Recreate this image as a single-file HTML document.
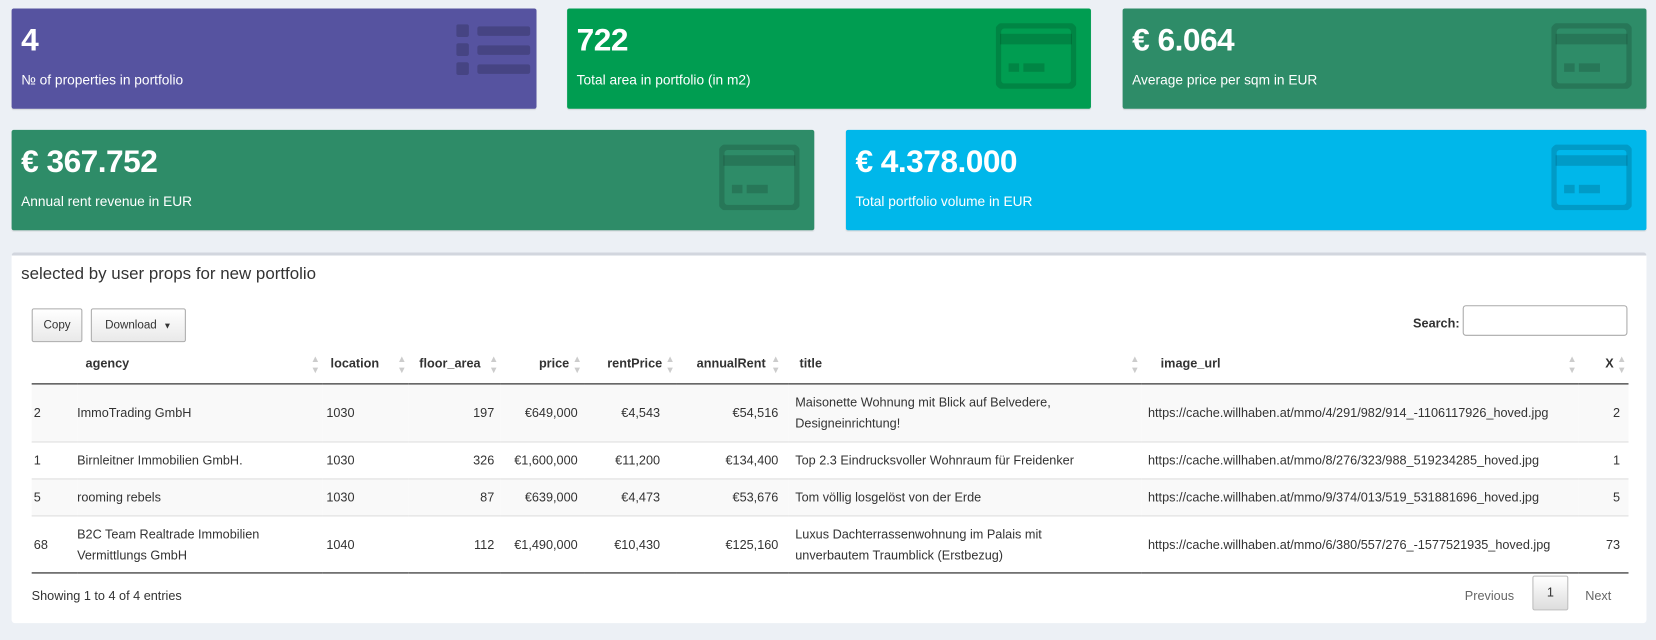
<!DOCTYPE html>
<html><head><meta charset="utf-8"><style>
html,body{margin:0;padding:0;background:#ecf0f5;overflow:hidden;width:1656px;height:640px}
#wrap{position:absolute;left:0;top:0;width:1568px;height:606px;transform:scale(1.0561);transform-origin:0 0;font-family:"Liberation Sans",sans-serif;color:#333}
.box{position:absolute;color:#fff;border-radius:2px;box-shadow:0 1px 1px rgba(0,0,0,.1)}
.box .v{position:absolute;left:9px;top:14px;font-size:30px;font-weight:bold;letter-spacing:-0.5px}
.box .l{position:absolute;left:9px;top:60px;font-size:13px}
.ic{position:absolute;right:14px;top:14px}
.panel{position:absolute;left:11px;top:239px;width:1548px;height:351px;background:#fff;border-top:3px solid #d2d6de;border-radius:3px;box-sizing:border-box}
.btn{position:absolute;top:50px;height:32px;border:1px solid #aaa;border-radius:2px;background:linear-gradient(#fff,#e9e9e9);font-size:11px;line-height:30px;box-sizing:border-box;text-align:center}
table{position:absolute;left:19px;top:82px;width:1512px;border-collapse:collapse;font-size:12px}
th{font-weight:bold;height:39px;padding:0;border-bottom:1px solid #111;text-align:left;position:relative}
td{border-top:1px solid #ddd;line-height:20px;padding:0}
tr.s td{background:#f9f9f9}
.r{text-align:right}
.ar{color:#ccc;font-size:9px;position:absolute;right:2px;top:11px}
</style></head><body><div id="wrap">

<div class="box" style="left:11px;top:8px;width:497px;height:95px;background:#5653a0">
<div class="v">4</div><div class="l">№ of properties in portfolio</div>
<svg class="ic" width="72" height="62" style="right:4px;top:15px"><g fill="rgba(0,0,0,0.18)"><rect x="0" y="0" width="12" height="12" rx="2"/><rect x="20" y="2" width="50" height="9" rx="2"/><rect x="0" y="18" width="12" height="12" rx="2"/><rect x="20" y="20" width="50" height="9" rx="2"/><rect x="0" y="36" width="12" height="12" rx="2"/><rect x="20" y="38" width="50" height="9" rx="2"/></g></svg></div>

<div class="box" style="left:537px;top:8px;width:496px;height:95px;background:#009d51">
<div class="v">722</div><div class="l">Total area in portfolio (in m2)</div>
<svg class="ic" width="76" height="62"><rect x="2" y="2" width="72" height="58" rx="6" fill="none" stroke="rgba(0,0,0,0.15)" stroke-width="6"/><rect x="4" y="10" width="68" height="10" fill="rgba(0,0,0,0.15)"/><rect x="12" y="38" width="10" height="8" fill="rgba(0,0,0,0.15)"/><rect x="26" y="38" width="20" height="8" fill="rgba(0,0,0,0.15)"/></svg></div>

<div class="box" style="left:1063px;top:8px;width:496px;height:95px;background:#2e8c68">
<div class="v">€ 6.064</div><div class="l">Average price per sqm in EUR</div>
<svg class="ic" width="76" height="62"><rect x="2" y="2" width="72" height="58" rx="6" fill="none" stroke="rgba(0,0,0,0.15)" stroke-width="6"/><rect x="4" y="10" width="68" height="10" fill="rgba(0,0,0,0.15)"/><rect x="12" y="38" width="10" height="8" fill="rgba(0,0,0,0.15)"/><rect x="26" y="38" width="20" height="8" fill="rgba(0,0,0,0.15)"/></svg></div>

<div class="box" style="left:11px;top:123px;width:760px;height:95px;background:#2e8c68">
<div class="v">€ 367.752</div><div class="l">Annual rent revenue in EUR</div>
<svg class="ic" width="76" height="62"><rect x="2" y="2" width="72" height="58" rx="6" fill="none" stroke="rgba(0,0,0,0.15)" stroke-width="6"/><rect x="4" y="10" width="68" height="10" fill="rgba(0,0,0,0.15)"/><rect x="12" y="38" width="10" height="8" fill="rgba(0,0,0,0.15)"/><rect x="26" y="38" width="20" height="8" fill="rgba(0,0,0,0.15)"/></svg></div>

<div class="box" style="left:801px;top:123px;width:758px;height:95px;background:#00b7ea">
<div class="v">€ 4.378.000</div><div class="l">Total portfolio volume in EUR</div>
<svg class="ic" width="76" height="62"><rect x="2" y="2" width="72" height="58" rx="6" fill="none" stroke="rgba(0,0,0,0.15)" stroke-width="6"/><rect x="4" y="10" width="68" height="10" fill="rgba(0,0,0,0.15)"/><rect x="12" y="38" width="10" height="8" fill="rgba(0,0,0,0.15)"/><rect x="26" y="38" width="20" height="8" fill="rgba(0,0,0,0.15)"/></svg></div>

<div class="panel">
<div style="position:absolute;left:9px;top:9px;font-size:16px">selected by user props for new portfolio</div>
<div class="btn" style="left:19px;width:48px">Copy</div>
<div class="btn" style="left:75px;width:90px">Download &nbsp;<span style="font-size:8px">▼</span></div>
<div style="position:absolute;left:1327px;top:57px;font-size:12px;font-weight:bold">Search:</div>
<div style="position:absolute;left:1374px;top:47px;width:156px;height:29px;border:1px solid #aaa;border-radius:3px;box-sizing:border-box"></div>
<table>
<colgroup><col style="width:43px"><col style="width:232px"><col style="width:82px"><col style="width:87px"><col style="width:79px"><col style="width:88px"><col style="width:106px"><col style="width:334px"><col style="width:414px"><col style="width:47px"></colgroup>
<thead><tr>
<th></th>
<th style="padding-left:8px">agency<span class="ar">▲<br>▼</span></th>
<th style="padding-left:8px">location<span class="ar">▲<br>▼</span></th>
<th style="padding-left:10px">floor_area<span class="ar">▲<br>▼</span></th>
<th class="r" style="padding-right:14px">price<span class="ar">▲<br>▼</span></th>
<th class="r" style="padding-right:14px">rentPrice<span class="ar">▲<br>▼</span></th>
<th class="r" style="padding-right:22px">annualRent<span class="ar" style="right:8px">▲<br>▼</span></th>
<th style="padding-left:10px">title<span class="ar">▲<br>▼</span></th>
<th style="padding-left:18px">image_url<span class="ar">▲<br>▼</span></th>
<th class="r" style="padding-right:14px">X<span class="ar">▲<br>▼</span></th>
</tr></thead>
<tbody>
<tr class="s" style="height:55px"><td style="padding-left:2px">2</td><td>ImmoTrading GmbH</td><td style="padding-left:4px">1030</td><td class="r" style="padding-right:6px">197</td><td class="r" style="padding-right:6px">€649,000</td><td class="r" style="padding-right:16px">€4,543</td><td class="r" style="padding-right:10px">€54,516</td><td style="padding-left:6px">Maisonette Wohnung mit Blick auf Belvedere,<br>Designeinrichtung!</td><td style="padding-left:6px">https://cache.willhaben.at/mmo/4/291/982/914_-1106117926_hoved.jpg</td><td class="r" style="padding-right:8px">2</td></tr>
<tr style="height:35px"><td style="padding-left:2px">1</td><td>Birnleitner Immobilien GmbH.</td><td style="padding-left:4px">1030</td><td class="r" style="padding-right:6px">326</td><td class="r" style="padding-right:6px">€1,600,000</td><td class="r" style="padding-right:16px">€11,200</td><td class="r" style="padding-right:10px">€134,400</td><td style="padding-left:6px">Top 2.3 Eindrucksvoller Wohnraum für Freidenker</td><td style="padding-left:6px">https://cache.willhaben.at/mmo/8/276/323/988_519234285_hoved.jpg</td><td class="r" style="padding-right:8px">1</td></tr>
<tr class="s" style="height:35px"><td style="padding-left:2px">5</td><td>rooming rebels</td><td style="padding-left:4px">1030</td><td class="r" style="padding-right:6px">87</td><td class="r" style="padding-right:6px">€639,000</td><td class="r" style="padding-right:16px">€4,473</td><td class="r" style="padding-right:10px">€53,676</td><td style="padding-left:6px">Tom völlig losgelöst von der Erde</td><td style="padding-left:6px">https://cache.willhaben.at/mmo/9/374/013/519_531881696_hoved.jpg</td><td class="r" style="padding-right:8px">5</td></tr>
<tr style="height:54px;border-bottom:1px solid #111"><td style="padding-left:2px">68</td><td>B2C Team Realtrade Immobilien<br>Vermittlungs GmbH</td><td style="padding-left:4px">1040</td><td class="r" style="padding-right:6px">112</td><td class="r" style="padding-right:6px">€1,490,000</td><td class="r" style="padding-right:16px">€10,430</td><td class="r" style="padding-right:10px">€125,160</td><td style="padding-left:6px">Luxus Dachterrassenwohnung im Palais mit<br>unverbautem Traumblick (Erstbezug)</td><td style="padding-left:6px">https://cache.willhaben.at/mmo/6/380/557/276_-1577521935_hoved.jpg</td><td class="r" style="padding-right:8px">73</td></tr>
</tbody></table>
<div style="position:absolute;left:19px;top:315px;font-size:12px">Showing 1 to 4 of 4 entries</div>
<div style="position:absolute;left:1376px;top:315px;font-size:12px;color:#666">Previous</div>
<div style="position:absolute;left:1440px;top:303px;width:34px;height:33px;border:1px solid #bbb;border-radius:2px;background:linear-gradient(#fff,#ddd);box-sizing:border-box;text-align:center;line-height:31px;font-size:12px">1</div>
<div style="position:absolute;left:1490px;top:315px;font-size:12px;color:#666">Next</div>
</div>
</div></body></html>
